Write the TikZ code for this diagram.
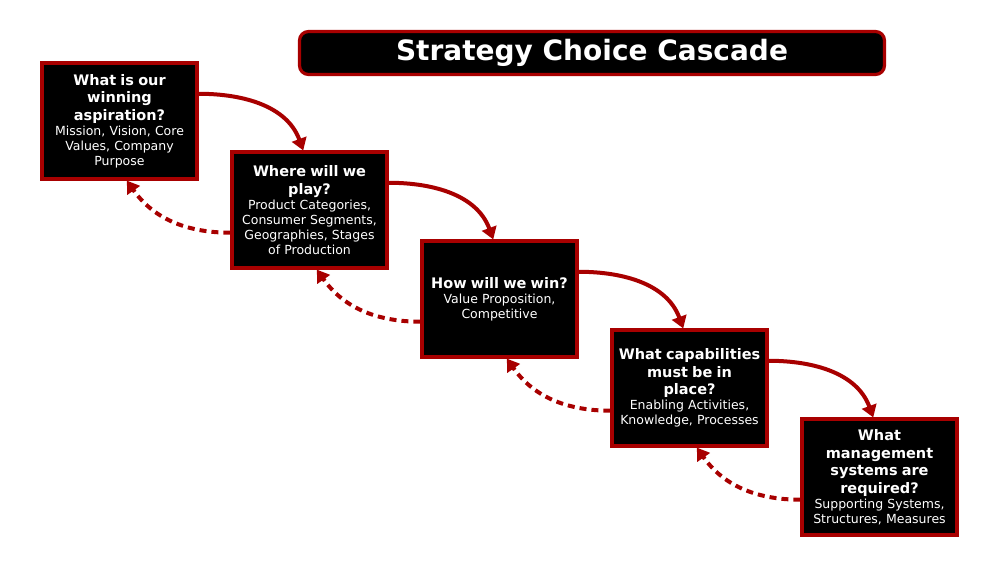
\documentclass[tikz,border=0pt]{standalone}
\usepackage{fontspec}
\setmainfont{DejaVu Sans}
\usetikzlibrary{arrows.meta}
\definecolor{boxred}{HTML}{A80000}
\tikzset{
  stagebox/.style={draw=boxred, line width=3.2pt, fill=black, text=white,
    minimum width=155pt, minimum height=116pt, text width=150pt, align=center,
    inner sep=0pt, font=\fontsize{12.5}{15}\selectfont},
  fwd/.style={draw=boxred, line width=4pt, -{Triangle[length=12pt,width=15pt]}},
  back/.style={fwd, dash pattern=on 7pt off 5pt},
  titlebox/.style={draw=boxred, line width=3.2pt, fill=black, text=white,
    rounded corners=9pt, minimum width=585pt, minimum height=43pt,
    font=\fontsize{28}{32}\selectfont\bfseries}
}
\newcommand{\hd}[1]{{\fontsize{14.5}{17.5}\selectfont\bfseries #1\par}}
\begin{document}
\begin{tikzpicture}[x=1pt,y=-1pt]
\useasboundingbox (0,0) rectangle (1000,563);
\node[titlebox] (title) at (592,53) {Strategy Choice Cascade};
\node[stagebox] (b1) at (119.5,121) {\hd{What is our\\winning\\aspiration?}Mission, Vision, Core\\Values, Company\\Purpose};
\node[stagebox] (b2) at (309.5,210) {\hd{Where will we\\play?}Product Categories,\\Consumer Segments,\\Geographies, Stages\\of Production};
\node[stagebox] (b3) at (499.5,299) {\hd{How will we win?}Value Proposition,\\Competitive};
\node[stagebox] (b4) at (689.5,388) {\hd{What capabilities\\must be in\\place?}Enabling Activities,\\Knowledge, Processes};
\node[stagebox] (b5) at (879.5,477) {\hd{What\\management\\systems are\\required?}Supporting Systems,\\Structures, Measures};
\foreach \a/\b in {b1/b2,b2/b3,b3/b4,b4/b5}{
  \draw[fwd] (\a.19) to[out=0,in=110] (\b.96);
  \draw[back] (\b.196) to[out=180,in=-55] (\a.277);
}
\end{tikzpicture}
\end{document}
